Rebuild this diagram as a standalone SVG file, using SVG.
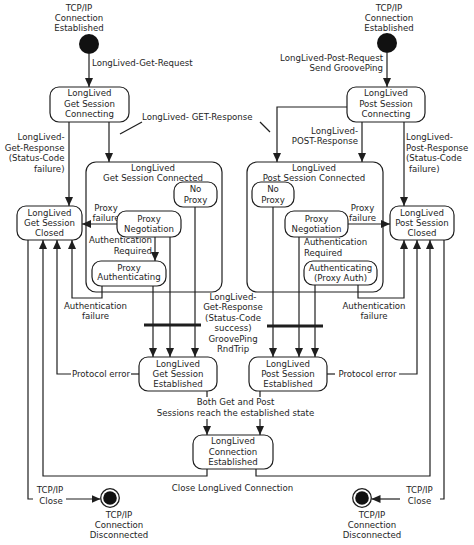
<svg xmlns="http://www.w3.org/2000/svg" width="474" height="545" viewBox="0 0 474 545">
<defs>
<marker id="ah" markerUnits="userSpaceOnUse" markerWidth="9" markerHeight="8" refX="9" refY="4" orient="auto">
<path d="M0,0 L9,4 L0,8 z" fill="#1e1e1e"/>
</marker>
<style>
text{font-family:"DejaVu Sans",Verdana,sans-serif;font-size:8.6px;fill:#1e1e1e}
.m{text-anchor:middle}
.e{text-anchor:end}
.box{fill:#fff;stroke:#1e1e1e;stroke-width:1.2}
.ln{fill:none;stroke:#1e1e1e;stroke-width:1.2}
.ar{fill:none;stroke:#1e1e1e;stroke-width:1.2;marker-end:url(#ah)}
.bar{stroke:#1e1e1e;stroke-width:3}
</style>
</defs>
<rect width="474" height="545" fill="#fff"/>

<!-- containers -->
<g id="get-connected">
<rect class="box" x="86" y="162" width="136" height="130" rx="10"/>
<text class="m" x="153" y="170.5">LongLived</text>
<text class="m" x="153" y="180.8">Get Session Connected</text>
</g>
<g id="post-connected">
<rect class="box" x="247" y="162" width="136" height="130" rx="10"/>
<text class="m" x="314" y="170.5">LongLived</text>
<text class="m" x="314" y="180.8">Post Session Connected</text>
</g>

<g id="connectors">
<path class="ar" d="M89,54 V87"/>
<path class="ar" d="M387,53 V87"/>
<path class="ar" d="M69,122 V206"/>
<path class="ar" d="M109,122 V162"/>
<path class="ln" d="M120,134 L142,122"/>
<path class="ln" d="M260,122 L270,132"/>
<path class="ar" d="M347,107 H277 V162"/>
<path class="ar" d="M362,122 V162"/>
<path class="ar" d="M404,122 V206"/>
<path class="ar" d="M117,224 H82"/>
<path class="ar" d="M348,224 H390"/>
<path class="ar" d="M155,237 V261"/>
<path class="ar" d="M102,286 V298 H72 V240"/>
<path class="ar" d="M358,285 V298 H404 V240"/>
<path class="ar" d="M153,286 V357"/>
<path class="ar" d="M170,237 V357"/>
<path class="ar" d="M195,207 V357"/>
<path class="ar" d="M273,207 V357"/>
<path class="ar" d="M299,237 V357"/>
<path class="ar" d="M315,285 V357"/>
<line class="bar" x1="144" y1="325" x2="201" y2="325"/>
<line class="bar" x1="267" y1="326" x2="323" y2="326"/>
<path class="ln" d="M139,374 H131"/>
<path class="ar" d="M71,374 H57 V240"/>
<path class="ln" d="M327,374 H335"/>
<path class="ar" d="M399,374 H417 V240"/>
<path class="ln" d="M207,391 V397"/>
<path class="ar" d="M207,419 V435"/>
<path class="ln" d="M260,391 V397"/>
<path class="ar" d="M260,419 V435"/>
<path class="ar" d="M207,469 V476 H43 V240"/>
<path class="ar" d="M256,469 V476 H430 V240"/>
<path class="ln" d="M28,240 V499 H33"/>
<path class="ar" d="M66,499 H100.5"/>
<path class="ln" d="M444,240 V499 H440"/>
<path class="ar" d="M400,499 H371.5"/>
</g>

<g id="labels">
<text x="92" y="66">LongLived-Get-Request</text>
<text class="e" x="383" y="60.5">LongLived-Post-Request</text>
<text class="e" x="383" y="71.3">Send GroovePing</text>
<text x="142" y="120">LongLived- GET-Response</text>
<text class="e" x="64.5" y="140">LongLived-</text>
<text class="e" x="64.5" y="150.6">Get-Response</text>
<text class="e" x="64.5" y="161.3">(Status-Code</text>
<text class="e" x="64.5" y="172">failure)</text>
<text class="e" x="358" y="133.5">LongLived-</text>
<text class="e" x="358" y="144">POST-Response</text>
<text x="406" y="140">LongLived-</text>
<text x="406" y="150.6">Post-Response</text>
<text x="406" y="161.3">(Status-Code</text>
<text x="409" y="172">failure)</text>
<text class="m" x="106" y="210.5">Proxy</text>
<text class="m" x="106" y="220.8">failure</text>
<text class="m" x="362.5" y="210.5">Proxy</text>
<text class="m" x="362.5" y="220.8">failure</text>
<text class="e" x="152" y="243.3">Authentication</text>
<text class="e" x="152" y="254.3">Required</text>
<text x="304" y="245">Authentication</text>
<text x="304" y="255.5">Required</text>
<text class="m" x="95.5" y="308.5">Authentication</text>
<text class="m" x="95.5" y="318.8">failure</text>
<text class="m" x="374" y="308.5">Authentication</text>
<text class="m" x="374" y="318.8">failure</text>
<text class="m" x="233" y="299.5">LongLived-</text>
<text class="m" x="233" y="310">Get-Response</text>
<text class="m" x="233" y="320.5">(Status-Code</text>
<text class="m" x="233" y="331">success)</text>
<text class="m" x="233" y="341.5">GroovePing</text>
<text class="m" x="233" y="352">RndTrip</text>
<text class="m" x="101" y="377.3">Protocol error</text>
<text class="m" x="367.5" y="377.3">Protocol error</text>
<text class="m" x="235.5" y="405.2">Both Get and Post</text>
<text class="m" x="235.5" y="415.7">Sessions reach the established state</text>
<text class="m" x="232.5" y="491">Close LongLived Connection</text>
<text class="m" x="50" y="493.3">TCP/IP</text>
<text class="m" x="51" y="503.5">Close</text>
<text class="m" x="419.5" y="493.3">TCP/IP</text>
<text class="m" x="419.5" y="503.5">Close</text>
</g>

<g id="start-get">
<circle cx="89" cy="44" r="10" fill="#111"/>
<text class="m" x="79" y="10.5">TCP/IP</text>
<text class="m" x="79" y="20.8">Connection</text>
<text class="m" x="79" y="31.1">Established</text>
</g>
<g id="start-post">
<circle cx="387" cy="43" r="10" fill="#111"/>
<text class="m" x="389" y="10.5">TCP/IP</text>
<text class="m" x="389" y="20.8">Connection</text>
<text class="m" x="389" y="31.1">Established</text>
</g>

<g id="get-connecting">
<rect class="box" x="50" y="87" width="79" height="35" rx="9"/>
<text class="m" x="89.5" y="96">LongLived</text>
<text class="m" x="89.5" y="106.5">Get Session</text>
<text class="m" x="89.5" y="117">Connecting</text>
</g>
<g id="post-connecting">
<rect class="box" x="347" y="87" width="78" height="35" rx="9"/>
<text class="m" x="386" y="96">LongLived</text>
<text class="m" x="386" y="106.5">Post Session</text>
<text class="m" x="386" y="117">Connecting</text>
</g>

<g id="get-closed">
<rect class="box" x="17" y="206" width="65" height="34" rx="9"/>
<text class="m" x="49.5" y="216">LongLived</text>
<text class="m" x="49.5" y="226.2">Get Session</text>
<text class="m" x="49.5" y="236.4">Closed</text>
</g>
<g id="post-closed">
<rect class="box" x="390" y="206" width="64" height="34" rx="9"/>
<text class="m" x="422" y="216">LongLived</text>
<text class="m" x="422" y="226.2">Post Session</text>
<text class="m" x="422" y="236.4">Closed</text>
</g>

<g id="get-noproxy">
<rect class="box" x="174" y="182" width="43" height="25" rx="9"/>
<text class="m" x="195.5" y="192.3">No</text>
<text class="m" x="195.5" y="202.5">Proxy</text>
</g>
<g id="post-noproxy">
<rect class="box" x="252" y="182" width="42" height="25" rx="9"/>
<text class="m" x="273" y="192.3">No</text>
<text class="m" x="273" y="202.5">Proxy</text>
</g>

<g id="get-negotiation">
<rect class="box" x="117" y="211" width="64" height="26" rx="9"/>
<text class="m" x="149" y="221.5">Proxy</text>
<text class="m" x="149" y="231.7">Negotiation</text>
</g>
<g id="post-negotiation">
<rect class="box" x="285" y="211" width="63" height="26" rx="9"/>
<text class="m" x="316.5" y="221.5">Proxy</text>
<text class="m" x="316.5" y="231.7">Negotiation</text>
</g>

<g id="get-authenticating">
<rect class="box" x="92" y="261" width="74" height="25" rx="9"/>
<text class="m" x="129" y="271">Proxy</text>
<text class="m" x="129" y="280.3">Authenticating</text>
</g>
<g id="post-authenticating">
<rect class="box" x="304" y="261" width="73" height="24" rx="9"/>
<text class="m" x="340.5" y="271">Authenticating</text>
<text class="m" x="340.5" y="280.5">(Proxy Auth)</text>
</g>

<g id="get-established">
<rect class="box" x="139" y="357" width="78" height="34" rx="9"/>
<text class="m" x="178" y="366.5">LongLived</text>
<text class="m" x="178" y="376.7">Get Session</text>
<text class="m" x="178" y="386.9">Established</text>
</g>
<g id="post-established">
<rect class="box" x="249" y="357" width="78" height="34" rx="9"/>
<text class="m" x="288" y="366.5">LongLived</text>
<text class="m" x="288" y="376.7">Post Session</text>
<text class="m" x="288" y="386.9">Established</text>
</g>

<g id="connection-established">
<rect class="box" x="193" y="435" width="80" height="34" rx="9"/>
<text class="m" x="233" y="444.3">LongLived</text>
<text class="m" x="233" y="454.5">Connection</text>
<text class="m" x="233" y="464.7">Established</text>
</g>

<g id="end-get">
<circle cx="110" cy="498" r="9.3" fill="#fff" stroke="#1e1e1e" stroke-width="1.3"/>
<circle cx="110" cy="498" r="6.8" fill="#111"/>
<text class="m" x="119" y="517.5">TCP/IP</text>
<text class="m" x="119" y="528">Connection</text>
<text class="m" x="119" y="538.3">Disconnected</text>
</g>
<g id="end-post">
<circle cx="362" cy="498" r="9.3" fill="#fff" stroke="#1e1e1e" stroke-width="1.3"/>
<circle cx="362" cy="498" r="6.8" fill="#111"/>
<text class="m" x="372" y="517.5">TCP/IP</text>
<text class="m" x="372" y="528">Connection</text>
<text class="m" x="372" y="538.3">Disconnected</text>
</g>
</svg>
